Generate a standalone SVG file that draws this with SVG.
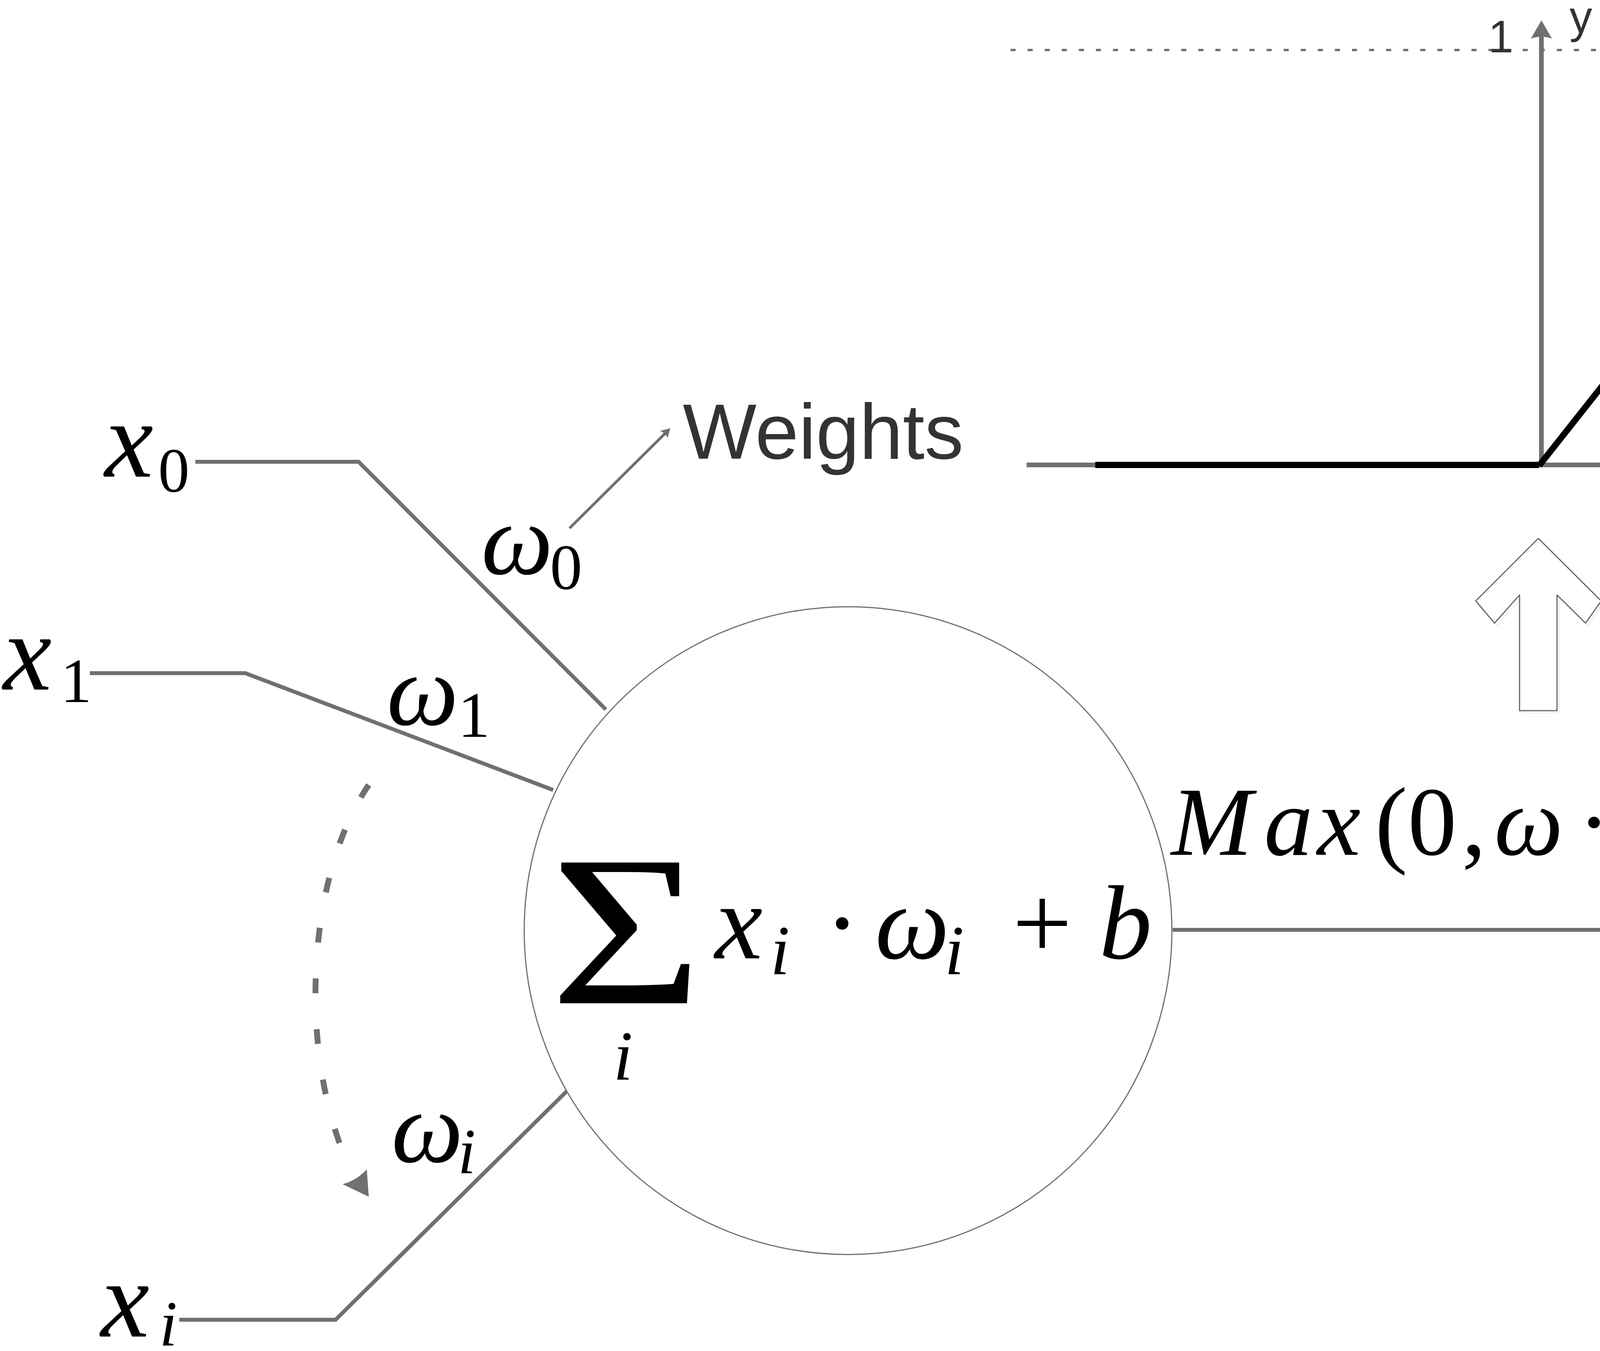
<svg xmlns="http://www.w3.org/2000/svg" width="5579" height="3458" viewBox="0 0 5579 3458">
<style>
.m{font-family:"Liberation Serif","DejaVu Serif",serif;font-style:italic;fill:#000}
.u{font-family:"Liberation Serif","DejaVu Serif",serif;fill:#000}
.s{font-family:"Liberation Sans",Arial,sans-serif;fill:#333}
.wire{fill:none;stroke:#707070;stroke-width:10}
.axis{fill:none;stroke:#707070;stroke-width:12}
.relu{fill:none;stroke:#000;stroke-width:16}
</style>
<defs>
<marker id="axisHead" markerUnits="userSpaceOnUse" orient="auto" refX="0" refY="0" markerWidth="60" markerHeight="60" overflow="visible">
<path d="M-7,-27 L40,0 L-7,27 Q3,0 -7,-27 Z" fill="#707070"/>
</marker>
</defs>
<rect width="5579" height="3458" fill="#fff"/>

<g id="connectors">
<path class="wire" d="M500,1182 L918,1182 L1551,1816"/>
<path class="wire" d="M230,1723 L628,1723 L1416,2022"/>
<path class="wire" d="M459,3378 L859,3378 L1454,2790"/>
<path class="wire" d="M3002,2380 L4828,2380"/>
<path class="wire" d="M4770,2351 L4830,2380 L4770,2409"/>
<path d="M944,2009 C780,2250 760,2720 905,3010" fill="none" stroke="#707070" stroke-width="15" stroke-dasharray="38 92"/>
<path d="M944,3063 L877,3031 Q912,3022 939,2993 Z" fill="#707070"/>
<path d="M1458,1352 L1702,1110" fill="none" stroke="#707070" stroke-width="7"/>
<path d="M1716,1096 L1690,1103 Q1703,1108 1709,1121 Z" fill="#707070"/>
</g>

<g id="neuron">
<circle cx="2171" cy="2382" r="829" fill="#fff" stroke="#707070" stroke-width="3"/>
<text class="u" transform="translate(1408,2568) scale(1.22,1)" x="0" y="0" font-size="550" font-style="normal">Σ</text>
<text class="m" x="1570" y="2763" font-size="180">i</text>
<text class="m" x="1830" y="2453" font-size="275">x</text>
<text class="m" x="1972" y="2493" font-size="180">i</text>
<text class="u" x="2111" y="2453" font-size="270">·</text>
<text class="m" x="2240" y="2453" font-size="270">ω</text>
<text class="m" x="2418" y="2493" font-size="180">i</text>
<text class="u" x="2592" y="2453" font-size="270">+</text>
<text class="m" x="2814" y="2453" font-size="270">b</text>
</g>

<g id="input-x0">
<text class="m" x="268" y="1220" font-size="280">x</text>
<text class="u" x="405" y="1258" font-size="160">0</text>
</g>
<g id="input-x1">
<text class="m" x="8" y="1765" font-size="280">x</text>
<text class="u" x="155" y="1797" font-size="160">1</text>
</g>
<g id="input-xi">
<text class="m" x="258" y="3421" font-size="280">x</text>
<text class="m" x="408" y="3444" font-size="165">i</text>
</g>
<g id="weight-w0">
<text class="m" x="1232" y="1469" font-size="260">ω</text>
<text class="u" x="1408" y="1507" font-size="165">0</text>
</g>
<g id="weight-w1">
<text class="m" x="990" y="1855" font-size="260">ω</text>
<text class="u" x="1172" y="1886" font-size="165">1</text>
</g>
<g id="weight-wi">
<text class="m" x="1002" y="2974" font-size="260">ω</text>
<text class="m" x="1172" y="3003" font-size="165">i</text>
</g>
<g id="weights-label">
<text class="s" x="1748" y="1174" font-size="200">Weights</text>
</g>

<g id="activation-label">
<text class="m" x="2998" y="2188" font-size="250">M</text>
<text class="m" x="3236" y="2188" font-size="250">a</text>
<text class="m" x="3372" y="2188" font-size="250">x</text>
<text class="u" x="3520" y="2188" font-size="250">(</text>
<text class="u" x="3604" y="2188" font-size="250">0</text>
<text class="u" x="3742" y="2188" font-size="250">,</text>
<text class="m" x="3825" y="2188" font-size="250">ω</text>
<text class="u" x="4039" y="2188" font-size="250">·</text>
<text class="m" x="4158" y="2188" font-size="250">x</text>
<text class="u" x="4362" y="2188" font-size="250">+</text>
<text class="m" x="4610" y="2188" font-size="250">b</text>
<text class="u" x="4706" y="2188" font-size="250">)</text>
</g>

<g id="output-label">
<text class="s" x="4845" y="2367" font-size="200">output</text>
<text class="s" x="4655" y="2587" font-size="200">to the next</text>
</g>

<g id="up-arrow">
<polygon points="3944,1384 3784,1544 3832,1601 3896,1529 3896,1825 3992,1825 3992,1529 4065,1601 4105,1544" fill="none" stroke="#efefef" stroke-width="3"/>
<polygon points="3938,1378 3778,1538 3826,1595 3890,1523 3890,1819 3986,1819 3986,1523 4059,1595 4099,1538" fill="#fff" stroke="#666" stroke-width="3" stroke-linejoin="round"/>
</g>

<g id="relu-plot">
<line x1="2587" y1="128" x2="5270" y2="128" stroke="#707070" stroke-width="6" stroke-dasharray="13 30.7"/>
<line class="axis" x1="2628" y1="1190" x2="5291" y2="1190" marker-end="url(#axisHead)"/>
<line class="axis" x1="3946" y1="1196" x2="3946" y2="92" marker-end="url(#axisHead)"/>
<path class="relu" d="M2804,1190 L3940,1190"/>
<path class="relu" d="M3940,1192 L4885,-2"/>
<text class="s" x="3810" y="134" font-size="116">1</text>
<text class="s" x="4018" y="84" font-size="116">y</text>
<text class="s" x="5238" y="1157" font-size="119">x</text>
</g>
</svg>
